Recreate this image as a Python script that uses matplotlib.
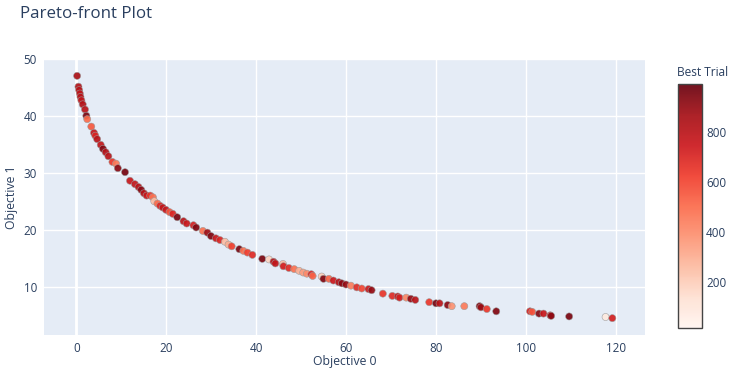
import matplotlib
matplotlib.use("Agg")
from matplotlib import pyplot as plt
import numpy as np

# Pareto-front points (objective 0, objective 1, trial number)
objective_0 = [0.15, 0.45, 0.6, 0.75, 0.9, 1.1, 1.4, 1.9, 2.2, 2.4,
               3.3, 3.9, 4.2, 4.6, 5.4, 5.9, 6.5, 7.1, 8.0, 8.8,
               9.2, 10.8, 11.9, 13.0, 13.8, 14.4, 15.0, 15.6, 16.4, 17.0,
               17.3, 18.0, 18.6, 19.2, 19.9, 20.7, 21.4, 22.4, 23.8, 24.5,
               26.0, 26.6, 28.1, 29.1, 29.9, 31.0, 31.9, 33.0, 33.8, 34.5,
               36.2, 37.1, 38.0, 39.1, 41.3, 42.8, 43.8, 44.2, 45.9, 46.0,
               47.2, 48.4, 49.5, 50.4, 51.2, 52.2, 52.5, 54.5, 54.9, 56.1,
               57.1, 58.3, 59.0, 59.9, 61.0, 62.3, 63.4, 64.9, 65.6, 68.1,
               70.2, 71.4, 71.8, 73.3, 74.3, 75.3, 78.4, 79.9, 80.7, 82.5,
               83.4, 86.2, 89.6, 89.9, 91.2, 93.3, 100.8, 101.3, 102.8, 103.8,
               105.3, 105.5, 109.5, 117.6, 119.1]
objective_1 = [47.1, 45.2, 44.6, 44.0, 43.4, 42.8, 42.1, 41.2, 40.1, 39.5,
               38.2, 37.1, 36.6, 36.0, 35.0, 34.3, 33.7, 33.0, 32.0, 31.7,
               30.9, 30.2, 28.7, 28.1, 27.6, 27.1, 26.5, 26.1, 26.1, 25.8,
               25.1, 24.7, 24.3, 24.0, 23.6, 23.2, 22.9, 22.3, 21.6, 21.2,
               20.9, 20.5, 19.9, 19.6, 19.0, 18.6, 18.3, 18.0, 17.5, 17.2,
               16.7, 16.4, 16.1, 15.7, 15.0, 14.9, 14.5, 14.2, 14.1, 13.7,
               13.4, 13.2, 12.9, 12.6, 12.4, 12.3, 12.0, 11.9, 11.5, 11.5,
               11.2, 10.9, 10.7, 10.5, 10.3, 10.0, 9.8, 9.7, 9.5, 8.9,
               8.5, 8.4, 8.2, 8.2, 8.0, 7.8, 7.4, 7.2, 7.2, 6.9,
               6.7, 6.7, 6.7, 6.5, 6.2, 5.8, 5.8, 5.7, 5.4, 5.4,
               5.1, 5.0, 4.9, 4.8, 4.6]
best_trial = [850, 820, 800, 790, 810, 780, 820, 800, 950, 500,
              550, 780, 700, 800, 780, 930, 820, 800, 640, 450,
              920, 960, 760, 780, 800, 920, 820, 760, 650, 480,
              250, 500, 700, 780, 760, 560, 700, 950, 800, 760,
              720, 940, 480, 880, 940, 760, 700, 250, 300, 620,
              950, 480, 620, 680, 950, 180, 820, 780, 250, 720,
              680, 480, 300, 350, 400, 700, 520, 200, 940, 520,
              750, 820, 920, 900, 450, 680, 600, 760, 900, 650,
              680, 780, 720, 420, 900, 800, 640, 960, 800, 920,
              380, 450, 930, 880, 640, 940, 720, 560, 930, 760,
              700, 920, 950, 80, 720]

text_color = "#2a3f5f"
plt.rcParams["font.family"] = ["Open Sans", "DejaVu Sans"]

fig = plt.figure(figsize=(7.34, 3.78), dpi=100)
ax = fig.add_axes([0.060, 0.1146, 0.819, 0.7285])
ax.set_facecolor("#E5ECF6")

sc = ax.scatter(objective_0, objective_1, c=best_trial, cmap="Reds",
                vmin=15, vmax=990, s=26, edgecolors="#9a9a9a",
                linewidths=0.4, alpha=0.92, zorder=3)

ax.set_xlim(-7.2, 126.4)
ax.set_ylim(1.7, 50.0)
ax.set_xticks([0, 20, 40, 60, 80, 100, 120])
ax.set_yticks([10, 20, 30, 40, 50])
ax.grid(True, color="white", linewidth=1, zorder=0)
ax.axvline(0, color="white", linewidth=2, zorder=1)
ax.set_axisbelow(True)
for spine in ax.spines.values():
    spine.set_visible(False)
ax.tick_params(length=0, labelsize=8.4, labelcolor=text_color, pad=5)

# axis titles placed like the reference
fig.text(345 / 734, 1 - 362 / 378, "Objective 0", fontsize=8.8,
         color=text_color, ha="center", va="center")
fig.text(11 / 734, 1 - 197 / 378, "Objective 1", fontsize=8.8,
         color=text_color, ha="center", va="center", rotation=90)

# colorbar
cax = fig.add_axes([0.9237, 0.1323, 0.0327, 0.6455])
cb = fig.colorbar(sc, cax=cax, ticks=[200, 400, 600, 800])
cb.outline.set_edgecolor("#444444")
cb.outline.set_linewidth(1)
cax.tick_params(length=0, labelsize=8.4, labelcolor=text_color, pad=3)
fig.text(677 / 734, 1 - 73 / 378, "Best Trial", fontsize=8.6, color=text_color,
         ha="left", va="center")

fig.text(20 / 734, 1 - 14 / 378, "Pareto-front Plot", fontsize=12.2,
         color=text_color, ha="left", va="center")

plt.savefig("out.png", dpi=100)
